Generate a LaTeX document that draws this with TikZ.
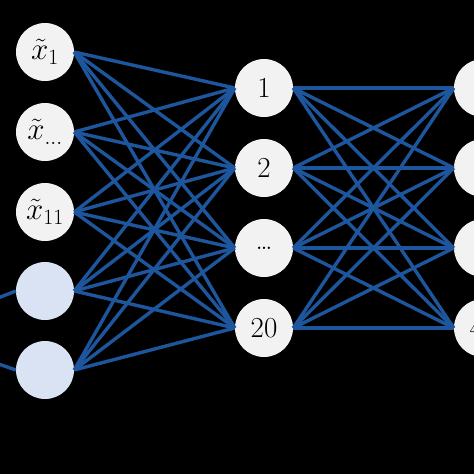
\RequirePackage{fix-cm}
\documentclass[tikz,border=0pt]{standalone}
\usepackage{amsmath}
\definecolor{edgeblue}{RGB}{30,86,158}
\definecolor{nodegray}{RGB}{242,242,242}
\definecolor{nodeblue}{RGB}{218,227,243}
\tikzset{
  neuron/.style={circle, minimum size=58pt, inner sep=0pt, fill=nodegray, font=\fontsize{29}{32}\selectfont},
  inneuron/.style={neuron, font=\fontsize{31}{36}\selectfont},
  biasneuron/.style={neuron, fill=nodeblue},
  conn/.style={draw=edgeblue, line width=3.4pt},
}
\begin{document}
\begin{tikzpicture}[x=1pt,y=-1pt]
\fill[black] (0,0) rectangle (474,474);
\useasboundingbox (0,0) rectangle (474,474);
\clip (0,0) rectangle (474,474);
% input layer
\node[inneuron] (i1) at (45,52) {$\tilde{x}_{1}$};
\node[inneuron] (i2) at (45,132) {$\tilde{x}_{\ldots}$};
\node[inneuron] (i3) at (45,212) {$\tilde{x}_{11}$};
\node[biasneuron] (i4) at (45,291) {};
\node[biasneuron] (i5) at (45,370) {};
% hidden layer
\node[neuron] (h1) at (264,88) {1};
\node[neuron] (h2) at (264,168) {2};
\node[neuron] (h3) at (264,248) {\ldots};
\node[neuron] (h4) at (264,328) {20};
% output layer (cut off at the right)
\node[neuron] (o1) at (483,88) {};
\node[neuron] (o2) at (483,168) {};
\node[neuron] (o3) at (483,248) {};
\node[neuron] (o4) at (483,328) {40};
% free ends at the left
\coordinate (l4) at (-30,309);
\coordinate (l5) at (-30,354);
\foreach \i in {1,...,5}{
  \foreach \h in {1,...,4}{
    \draw[conn] (i\i.east) -- (h\h.west);
  }
}
\foreach \h in {1,...,4}{
  \foreach \o in {1,...,4}{
    \draw[conn] (h\h.east) -- (o\o.west);
  }
}
\draw[conn] (l4) -- (i4.west);
\draw[conn] (l5) -- (i5.west);
\end{tikzpicture}
\end{document}
